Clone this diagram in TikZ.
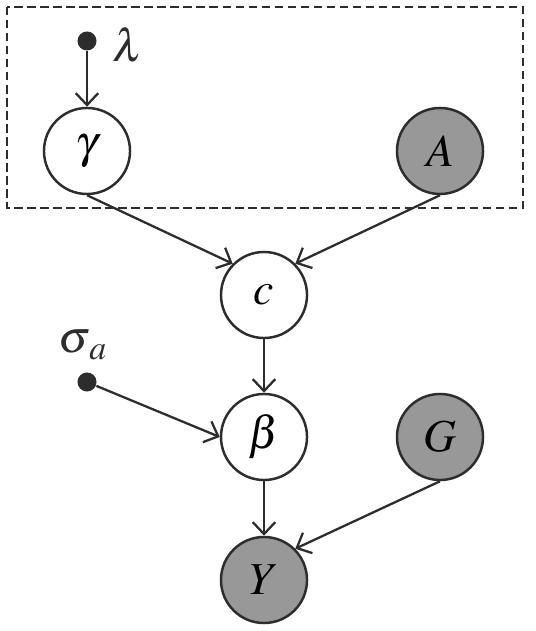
\documentclass[tikz,border=0pt]{standalone}
\usepackage{amsmath,amssymb}
\usepackage{mathptmx}
\usetikzlibrary{arrows.meta}
\definecolor{ink}{RGB}{45,45,45}
\definecolor{shade}{RGB}{152,152,152}
\tikzset{%
    lat/.style={circle, draw=ink, line width=0.7pt, fill=white, minimum size=0.86cm, inner sep=0pt, font=\fontsize{13}{15}\selectfont},
    obs/.style={lat, fill=shade},
    par/.style={circle, fill=ink, minimum size=0.19cm, inner sep=0pt},
    edga/.style={line width=0.65pt, draw=ink, -{Straight Barb[length=3.4pt,width=6.4pt]}},
    plt/.style={line width=0.65pt, draw=ink, dash pattern=on 2.4pt off 1.3pt},
    lbl/.style={text=ink, font=\fontsize{13}{15}\selectfont},
}
\begin{document}
\begin{tikzpicture}[x=0.01cm,y=-0.01cm]
    \useasboundingbox (0,0) rectangle (535,631);
    \draw [plt] (7,7) rectangle (523,208);
    \node [par] (lam) at (87,41) {};
    \node [lbl] (laml) at (128,45) {$\lambda$};
    \node [lat] (gam) at (87,151) {$\gamma$};
    \node [obs] (A) at (440,151) {$A$};
    \node [lat] (c) at (264,295) {$c$};
    \node [par] (sig) at (87,382) {};
    \node [lbl] (sigl) at (83,345) {$\sigma_{\,a}$};
    \node [lat] (beta) at (264,437) {$\beta$};
    \node [obs] (G) at (440,437) {$G$};
    \node [obs] (Y) at (264,580) {$Y$};
    \draw [edga] (lam) -- (gam);
    \draw [edga] (gam.south) -- (c.north west);
    \draw [edga] (A.south) -- (c.north east);
    \draw [edga] (c) -- (beta);
    \draw [edga] (sig) -- (beta.west);
    \draw [edga] (beta) -- (Y);
    \draw [edga] (G.south) -- (Y.north east);
\end{tikzpicture}
\end{document}
